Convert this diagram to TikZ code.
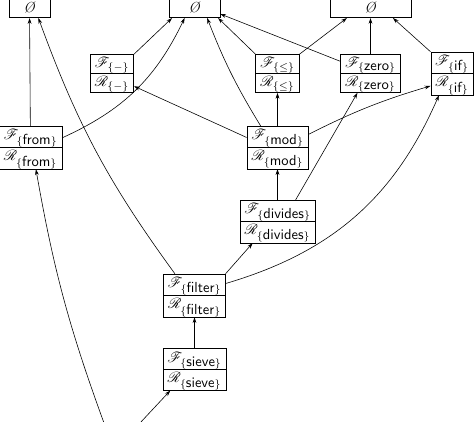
\documentclass[tikz,border=0pt]{standalone}
\usepackage{mathrsfs}
\usetikzlibrary{shapes.multipart,arrows.meta}
\newcommand{\rstrut}{\rule[-3.7pt]{0pt}{12.7pt}}
\newcommand{\Fs}[1]{\rstrut$\mathscr{F}_{\{#1\}}$}
\newcommand{\Rs}[1]{\rstrut$\mathscr{R}_{\{#1\}}$}
\tikzset{
  pair/.style={draw, rectangle split, rectangle split parts=2, inner xsep=3pt, inner ysep=0pt},
  nullbox/.style={draw, inner xsep=3pt, inner ysep=0pt, anchor=south},
}
\begin{document}
\begin{tikzpicture}[x=0.6875pt,y=-0.6875pt,>={Stealth[length=4pt,width=2.6pt]}]
        \useasboundingbox (0,0) rectangle (474,421);
        % conjuntos vacios arriba
        \node[nullbox,minimum width=28.2pt] (e1) at (29.5,18) {\rstrut\textit{\O}};
        \node[nullbox,minimum width=35pt] (e2) at (194.5,18) {\rstrut\textit{\O}};
        \node[nullbox,minimum width=55.7pt] (e3) at (370.5,18) {\rstrut\textit{\O}};
        % fila 1
        \node[pair] (minus) at (112,73.5) {\Fs{-} \nodepart{two} \Rs{-}};
        \node[pair] (le) at (277.5,73.5) {\Fs{\leq} \nodepart{two} \Rs{\leq}};
        \node[pair] (zero) at (370.5,73.5) {\Fs{\textsf{zero}} \nodepart{two} \Rs{\textsf{zero}}};
        \node[pair] (if) at (452,73.5) {\Fs{\textsf{if}} \nodepart{two} \Rs{\textsf{if}}};
        % fila 2
        \node[pair] (from) at (30.5,147.5) {\Fs{\textsf{from}} \nodepart{two} \Rs{\textsf{from}}};
        \node[pair] (mod) at (277.5,147.5) {\Fs{\textsf{mod}} \nodepart{two} \Rs{\textsf{mod}}};
        % filas de abajo
        \node[pair] (divides) at (277.5,221.5) {\Fs{\textsf{divides}} \nodepart{two} \Rs{\textsf{divides}}};
        \node[pair] (filter) at (194.5,295.5) {\Fs{\textsf{filter}} \nodepart{two} \Rs{\textsf{filter}}};
        \node[pair] (sieve) at (194.5,369.5) {\Fs{\textsf{sieve}} \nodepart{two} \Rs{\textsf{sieve}}};
        % extremos sueltos abajo
        \coordinate (b1) at (104,423);
        \coordinate (b2) at (140,423);
        % flechas
        \draw[->] (from) -- (e1);
        \draw[->] (filter.132) to[bend left=8] (e1.-47);
        \draw[->] (b1) to[bend left=5] (from.-76);
        \draw[->] (b2) -- (sieve.-139);
        \draw[->] (sieve) -- (filter);
        \draw[->] (filter.35) -- (divides.-139);
        \draw[->] (filter.21) to[bend right=25] (if.-121);
        \draw[->] (divides) -- (mod);
        \draw[->] (divides.50) -- (zero.-124);
        \draw[->] (mod) -- (le);
        \draw[->] (mod.23) to[bend left=5] (if.210);
        \draw[->] (mod.128) to[bend left=5] (e2.-37);
        \draw[->] (mod.162) -- (minus.-30);
        \draw[->] (from.17) to[bend right=20] (e2.-136);
        \draw[->] (minus.north east) -- (e2.-157);
        \draw[->] (le.north west) -- (e2.-22);
        \draw[->] (zero.158) -- (e2.-12);
        \draw[->] (le.north east) -- (e3.-158);
        \draw[->] (zero) -- (e3);
        \draw[->] (if.north west) -- (e3.-23);
\end{tikzpicture}
\end{document}
